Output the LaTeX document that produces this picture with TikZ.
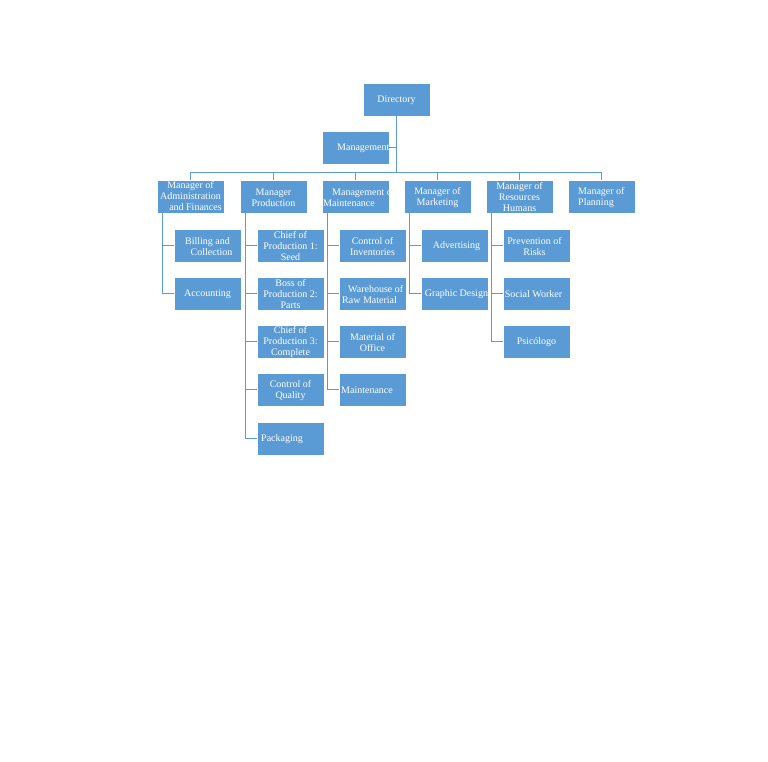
\documentclass[tikz,border=0pt]{standalone}
\usepackage{fontspec}
\setmainfont{Liberation Serif}
\definecolor{boxblue}{HTML}{5B9BD5}
\definecolor{lineblue}{HTML}{5B9BD5}
\tikzset{
  ob/.style={draw=white, line width=0.5pt, fill=boxblue, minimum width=67pt, minimum height=33pt, inner sep=0pt},
  ot/.style={text=white, font=\fontsize{10}{11}\selectfont, align=center, inner sep=0pt, yshift=-1pt},
  conn/.style={draw=lineblue, line width=0.9pt},
}
\newcommand\orgbox[5]{%
  \node[ob] (#1) at (#2,#3) {};
  \begin{scope}
    \clip (#1.south west) rectangle (#1.north east);
    \node[ot,#5] (#1t) at (#1.center) {#4};
  \end{scope}}
\begin{document}
\begin{tikzpicture}[x=1pt,y=-1pt]
\useasboundingbox (0,0) rectangle (768,762);
% top
\orgbox{dir}{396.5}{99.5}{Directory}{}
\orgbox{mgmt}{355.5}{147.5}{Management}{anchor=west, xshift=-18.5pt}
% managers
\orgbox{admin}{190.5}{196.5}{Manager of\\Administration\\\hspace*{10pt}and Finances}{yshift=1.5pt}
\orgbox{prod}{273.5}{196.5}{Manager\\Production}{}
\orgbox{maint}{355.5}{196.5}{\hspace*{9pt}Management of\\Maintenance}{align=left, anchor=west, xshift=-32.5pt}
\orgbox{mark}{437.5}{196.5}{Manager of\\Marketing}{}
\orgbox{hr}{519.5}{196.5}{Manager of\\Resources\\Humans}{}
\orgbox{plan}{601.5}{196.5}{Manager of\\Planning}{align=left, anchor=west, xshift=-23.5pt}
% admin children
\orgbox{bill}{207.5}{245.5}{Billing and\\\hspace*{8pt}Collection}{}
\orgbox{acct}{207.5}{293.5}{Accounting}{}
% production children
\orgbox{p1}{290.5}{245.5}{Chief of\\Production 1:\\Seed}{}
\orgbox{p2}{290.5}{293.5}{Boss of\\Production 2:\\Parts}{}
\orgbox{p3}{290.5}{341.5}{Chief of\\Production 3:\\Complete}{}
\orgbox{p4}{290.5}{389.5}{Control of\\Quality}{}
\orgbox{p5}{290.5}{438.5}{Packaging}{anchor=west, xshift=-29.5pt}
% maintenance children
\orgbox{m1}{372.5}{245.5}{Control of\\Inventories}{}
\orgbox{m2}{372.5}{293.5}{\hspace*{6pt}Warehouse of\\Raw Material}{align=left, anchor=west, xshift=-30.5pt}
\orgbox{m3}{372.5}{341.5}{Material of\\Office}{}
\orgbox{m4}{372.5}{389.5}{Maintenance}{anchor=west, xshift=-31.5pt}
% marketing children
\orgbox{k1}{454.5}{245.5}{Advertising}{xshift=2pt}
\orgbox{k2}{454.5}{293.5}{Graphic Design}{xshift=2pt}
% HR children
\orgbox{h1}{536.5}{245.5}{Prevention of\\Risks}{xshift=-2pt}
\orgbox{h2}{536.5}{293.5}{Social Worker}{xshift=-3pt}
\orgbox{h3}{536.5}{341.5}{Psicólogo}{}
% connectors
\coordinate (bus) at (396.5,172);
\draw[conn] (dir.south) -- (bus);
\draw[conn] (mgmt.east) -- (mgmt.east -| dir.south);
\foreach \m in {admin,prod,maint,mark,hr,plan}
  \draw[conn] (bus) -| (\m.north);
\draw[conn] ([xshift=6pt]admin.south west) |- (bill.west);
\draw[conn] ([xshift=6pt]admin.south west) |- (acct.west);
\foreach \c in {p1,p2,p3,p4,p5}
  \draw[conn] ([xshift=6pt]prod.south west) |- (\c.west);
\foreach \c in {m1,m2,m3,m4}
  \draw[conn] ([xshift=6pt]maint.south west) |- (\c.west);
\foreach \c in {k1,k2}
  \draw[conn] ([xshift=6pt]mark.south west) |- (\c.west);
\foreach \c in {h1,h2,h3}
  \draw[conn] ([xshift=6pt]hr.south west) |- (\c.west);
\end{tikzpicture}
\end{document}
